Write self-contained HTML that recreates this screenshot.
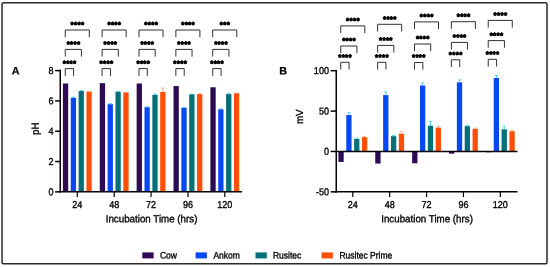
<!DOCTYPE html>
<html><head><meta charset="utf-8"><title>Figure</title>
<style>html,body{margin:0;padding:0;background:#fff;}body{width:550px;height:267px;overflow:hidden;font-family:"Liberation Sans",sans-serif;}svg{display:block;}</style>
</head><body>
<svg width="550" height="267" viewBox="0 0 550 267" font-family="'Liberation Sans', sans-serif">
<rect x="0" y="0" width="550" height="267" fill="#fff"/>
<rect x="2.05" y="2.65" width="544.95" height="261.2" rx="1.3" ry="1.3" fill="none" stroke="#2a2a2a" stroke-width="1.5"/>
<rect x="62.90" y="83.48" width="5.3" height="108.37" fill="#2d0a55"/>
<path d="M73.40 97.88V97.12M71.80 97.12H75.00" stroke="#2cc4ff" stroke-width="0.8" fill="none"/>
<rect x="70.75" y="97.88" width="5.3" height="93.97" fill="#0648f2"/>
<path d="M81.25 91.06V90.61M79.65 90.61H82.85" stroke="#2acfe0" stroke-width="0.8" fill="none"/>
<rect x="78.60" y="91.06" width="5.3" height="100.79" fill="#06707a"/>
<rect x="86.45" y="91.52" width="5.3" height="100.33" fill="#ff4e05"/>
<rect x="99.77" y="83.18" width="5.3" height="108.67" fill="#2d0a55"/>
<path d="M110.27 104.25V103.49M108.67 103.49H111.87" stroke="#2cc4ff" stroke-width="0.8" fill="none"/>
<rect x="107.62" y="104.25" width="5.3" height="87.60" fill="#0648f2"/>
<path d="M118.12 91.82V91.36M116.52 91.36H119.72" stroke="#2acfe0" stroke-width="0.8" fill="none"/>
<rect x="115.47" y="91.82" width="5.3" height="100.03" fill="#06707a"/>
<rect x="123.32" y="92.42" width="5.3" height="99.42" fill="#ff4e05"/>
<rect x="136.64" y="83.48" width="5.3" height="108.37" fill="#2d0a55"/>
<path d="M147.14 107.28V106.67M145.54 106.67H148.74" stroke="#2cc4ff" stroke-width="0.8" fill="none"/>
<rect x="144.49" y="107.28" width="5.3" height="84.57" fill="#0648f2"/>
<path d="M154.99 94.85V94.09M153.39 94.09H156.59" stroke="#2acfe0" stroke-width="0.8" fill="none"/>
<rect x="152.34" y="94.85" width="5.3" height="97.00" fill="#06707a"/>
<path d="M162.84 91.97V88.03M161.24 88.03H164.44" stroke="#ffa47a" stroke-width="0.8" fill="none"/>
<rect x="160.19" y="91.97" width="5.3" height="99.88" fill="#ff4e05"/>
<rect x="173.51" y="86.06" width="5.3" height="105.79" fill="#2d0a55"/>
<path d="M184.01 107.88V107.43M182.41 107.43H185.61" stroke="#2cc4ff" stroke-width="0.8" fill="none"/>
<rect x="181.36" y="107.88" width="5.3" height="83.97" fill="#0648f2"/>
<path d="M191.86 94.40V94.09M190.26 94.09H193.46" stroke="#2acfe0" stroke-width="0.8" fill="none"/>
<rect x="189.21" y="94.40" width="5.3" height="97.45" fill="#06707a"/>
<path d="M199.71 94.09V93.79M198.11 93.79H201.31" stroke="#ffa47a" stroke-width="0.8" fill="none"/>
<rect x="197.06" y="94.09" width="5.3" height="97.76" fill="#ff4e05"/>
<rect x="210.38" y="87.27" width="5.3" height="104.58" fill="#2d0a55"/>
<path d="M220.88 109.40V108.79M219.28 108.79H222.48" stroke="#2cc4ff" stroke-width="0.8" fill="none"/>
<rect x="218.23" y="109.40" width="5.3" height="82.45" fill="#0648f2"/>
<path d="M228.73 94.09V93.33M227.13 93.33H230.33" stroke="#2acfe0" stroke-width="0.8" fill="none"/>
<rect x="226.08" y="94.09" width="5.3" height="97.76" fill="#06707a"/>
<path d="M236.58 93.33V92.88M234.98 92.88H238.18" stroke="#ffa47a" stroke-width="0.8" fill="none"/>
<rect x="233.93" y="93.33" width="5.3" height="98.52" fill="#ff4e05"/>
<path d="M60.25 69.85V192.60" stroke="#000" stroke-width="1.5"/>
<path d="M59.50 191.85H242.05" stroke="#000" stroke-width="1.5"/>
<path d="M55.15 191.85H60.25" stroke="#000" stroke-width="1.5"/>
<text transform="translate(53.45 195.25) rotate(0.03) scale(0.905 1)" font-size="10.0" text-anchor="end" stroke="#000" stroke-width="0.35">0</text>
<path d="M55.15 161.54H60.25" stroke="#000" stroke-width="1.5"/>
<text transform="translate(53.45 164.94) rotate(0.03) scale(0.905 1)" font-size="10.0" text-anchor="end" stroke="#000" stroke-width="0.35">2</text>
<path d="M55.15 131.22H60.25" stroke="#000" stroke-width="1.5"/>
<text transform="translate(53.45 134.62) rotate(0.03) scale(0.905 1)" font-size="10.0" text-anchor="end" stroke="#000" stroke-width="0.35">4</text>
<path d="M55.15 100.91H60.25" stroke="#000" stroke-width="1.5"/>
<text transform="translate(53.45 104.31) rotate(0.03) scale(0.905 1)" font-size="10.0" text-anchor="end" stroke="#000" stroke-width="0.35">6</text>
<path d="M55.15 70.60H60.25" stroke="#000" stroke-width="1.5"/>
<text transform="translate(53.45 74.00) rotate(0.03) scale(0.905 1)" font-size="10.0" text-anchor="end" stroke="#000" stroke-width="0.35">8</text>
<path d="M77.33 191.85V197.05" stroke="#000" stroke-width="1.2"/>
<text transform="translate(77.33 208.10) rotate(0.03) scale(0.905 1)" font-size="10.0" text-anchor="middle" stroke="#000" stroke-width="0.35">24</text>
<path d="M114.19 191.85V197.05" stroke="#000" stroke-width="1.2"/>
<text transform="translate(114.19 208.10) rotate(0.03) scale(0.905 1)" font-size="10.0" text-anchor="middle" stroke="#000" stroke-width="0.35">48</text>
<path d="M151.06 191.85V197.05" stroke="#000" stroke-width="1.2"/>
<text transform="translate(151.06 208.10) rotate(0.03) scale(0.905 1)" font-size="10.0" text-anchor="middle" stroke="#000" stroke-width="0.35">72</text>
<path d="M187.94 191.85V197.05" stroke="#000" stroke-width="1.2"/>
<text transform="translate(187.94 208.10) rotate(0.03) scale(0.905 1)" font-size="10.0" text-anchor="middle" stroke="#000" stroke-width="0.35">96</text>
<path d="M224.81 191.85V197.05" stroke="#000" stroke-width="1.2"/>
<text transform="translate(224.81 208.10) rotate(0.03) scale(0.905 1)" font-size="10.0" text-anchor="middle" stroke="#000" stroke-width="0.35">120</text>
<text transform="translate(151.55 222.35) rotate(0.03) scale(0.95 1)" font-size="10.3" text-anchor="middle" stroke="#000" stroke-width="0.35">Incubation Time (hrs)</text>
<text transform="translate(38.80 128.80) rotate(-90.03) scale(0.95 1)" font-size="10.3" text-anchor="middle" stroke="#000" stroke-width="0.35">pH</text>
<text transform="translate(11.80 74.40) rotate(0.03)" font-size="10.8" font-weight="bold" stroke="#000" stroke-width="0.2">A</text>
<path d="M65.25 75.80V68.60H73.60V75.80" stroke="#1a1a1a" stroke-width="0.9" fill="none"/>
<text transform="translate(69.62 66.20) rotate(0.03)" font-size="8" letter-spacing="0.33" font-weight="bold" text-anchor="middle" stroke="#000" stroke-width="0.85" stroke-linejoin="round">****</text>
<path d="M65.25 56.60V49.40H81.45V56.60" stroke="#1a1a1a" stroke-width="0.9" fill="none"/>
<text transform="translate(73.55 47.00) rotate(0.03)" font-size="8" letter-spacing="0.33" font-weight="bold" text-anchor="middle" stroke="#000" stroke-width="0.85" stroke-linejoin="round">****</text>
<path d="M65.25 37.20V30.00H89.30V37.20" stroke="#1a1a1a" stroke-width="0.9" fill="none"/>
<text transform="translate(77.48 27.60) rotate(0.03)" font-size="8" letter-spacing="0.33" font-weight="bold" text-anchor="middle" stroke="#000" stroke-width="0.85" stroke-linejoin="round">****</text>
<path d="M102.12 75.80V68.60H110.47V75.80" stroke="#1a1a1a" stroke-width="0.9" fill="none"/>
<text transform="translate(106.50 66.20) rotate(0.03)" font-size="8" letter-spacing="0.33" font-weight="bold" text-anchor="middle" stroke="#000" stroke-width="0.85" stroke-linejoin="round">****</text>
<path d="M102.12 56.60V49.40H118.32V56.60" stroke="#1a1a1a" stroke-width="0.9" fill="none"/>
<text transform="translate(110.42 47.00) rotate(0.03)" font-size="8" letter-spacing="0.33" font-weight="bold" text-anchor="middle" stroke="#000" stroke-width="0.85" stroke-linejoin="round">****</text>
<path d="M102.12 37.20V30.00H126.17V37.20" stroke="#1a1a1a" stroke-width="0.9" fill="none"/>
<text transform="translate(114.35 27.60) rotate(0.03)" font-size="8" letter-spacing="0.33" font-weight="bold" text-anchor="middle" stroke="#000" stroke-width="0.85" stroke-linejoin="round">****</text>
<path d="M138.99 75.80V68.60H147.34V75.80" stroke="#1a1a1a" stroke-width="0.9" fill="none"/>
<text transform="translate(143.36 66.20) rotate(0.03)" font-size="8" letter-spacing="0.33" font-weight="bold" text-anchor="middle" stroke="#000" stroke-width="0.85" stroke-linejoin="round">****</text>
<path d="M138.99 56.60V49.40H155.19V56.60" stroke="#1a1a1a" stroke-width="0.9" fill="none"/>
<text transform="translate(147.29 47.00) rotate(0.03)" font-size="8" letter-spacing="0.33" font-weight="bold" text-anchor="middle" stroke="#000" stroke-width="0.85" stroke-linejoin="round">****</text>
<path d="M138.99 37.20V30.00H163.04V37.20" stroke="#1a1a1a" stroke-width="0.9" fill="none"/>
<text transform="translate(151.21 27.60) rotate(0.03)" font-size="8" letter-spacing="0.33" font-weight="bold" text-anchor="middle" stroke="#000" stroke-width="0.85" stroke-linejoin="round">****</text>
<path d="M175.86 75.80V68.60H184.21V75.80" stroke="#1a1a1a" stroke-width="0.9" fill="none"/>
<text transform="translate(180.23 66.20) rotate(0.03)" font-size="8" letter-spacing="0.33" font-weight="bold" text-anchor="middle" stroke="#000" stroke-width="0.85" stroke-linejoin="round">****</text>
<path d="M175.86 56.60V49.40H192.06V56.60" stroke="#1a1a1a" stroke-width="0.9" fill="none"/>
<text transform="translate(184.16 47.00) rotate(0.03)" font-size="8" letter-spacing="0.33" font-weight="bold" text-anchor="middle" stroke="#000" stroke-width="0.85" stroke-linejoin="round">****</text>
<path d="M175.86 37.20V30.00H199.91V37.20" stroke="#1a1a1a" stroke-width="0.9" fill="none"/>
<text transform="translate(188.08 27.60) rotate(0.03)" font-size="8" letter-spacing="0.33" font-weight="bold" text-anchor="middle" stroke="#000" stroke-width="0.85" stroke-linejoin="round">****</text>
<path d="M212.73 75.80V68.60H221.08V75.80" stroke="#1a1a1a" stroke-width="0.9" fill="none"/>
<text transform="translate(217.10 66.20) rotate(0.03)" font-size="8" letter-spacing="0.33" font-weight="bold" text-anchor="middle" stroke="#000" stroke-width="0.85" stroke-linejoin="round">****</text>
<path d="M212.73 56.60V49.40H228.93V56.60" stroke="#1a1a1a" stroke-width="0.9" fill="none"/>
<text transform="translate(221.03 47.00) rotate(0.03)" font-size="8" letter-spacing="0.33" font-weight="bold" text-anchor="middle" stroke="#000" stroke-width="0.85" stroke-linejoin="round">****</text>
<path d="M212.73 37.20V30.00H236.78V37.20" stroke="#1a1a1a" stroke-width="0.9" fill="none"/>
<text transform="translate(224.95 27.60) rotate(0.03)" font-size="8" letter-spacing="0.33" font-weight="bold" text-anchor="middle" stroke="#000" stroke-width="0.85" stroke-linejoin="round">***</text>
<rect x="338.40" y="151.47" width="5.3" height="10.42" fill="#2d0a55"/>
<path d="M348.90 115.04V112.62M347.30 112.62H350.50" stroke="#2cc4ff" stroke-width="0.8" fill="none"/>
<rect x="346.25" y="115.04" width="5.3" height="36.43" fill="#0648f2"/>
<path d="M356.75 139.03V138.22M355.15 138.22H358.35" stroke="#2acfe0" stroke-width="0.8" fill="none"/>
<rect x="354.10" y="139.03" width="5.3" height="12.44" fill="#06707a"/>
<path d="M364.60 137.17V136.36M363.00 136.36H366.20" stroke="#ffa47a" stroke-width="0.8" fill="none"/>
<rect x="361.95" y="137.17" width="5.3" height="14.30" fill="#ff4e05"/>
<rect x="375.27" y="151.47" width="5.3" height="12.11" fill="#2d0a55"/>
<path d="M385.77 95.09V91.94M384.17 91.94H387.37" stroke="#2cc4ff" stroke-width="0.8" fill="none"/>
<rect x="383.12" y="95.09" width="5.3" height="56.38" fill="#0648f2"/>
<path d="M393.62 136.20V135.39M392.02 135.39H395.22" stroke="#2acfe0" stroke-width="0.8" fill="none"/>
<rect x="390.97" y="136.20" width="5.3" height="15.26" fill="#06707a"/>
<path d="M401.47 133.70V131.68M399.87 131.68H403.07" stroke="#ffa47a" stroke-width="0.8" fill="none"/>
<rect x="398.82" y="133.70" width="5.3" height="17.77" fill="#ff4e05"/>
<rect x="412.14" y="151.47" width="5.3" height="11.79" fill="#2d0a55"/>
<path d="M422.64 85.56V82.81M421.04 82.81H424.24" stroke="#2cc4ff" stroke-width="0.8" fill="none"/>
<rect x="419.99" y="85.56" width="5.3" height="65.91" fill="#0648f2"/>
<path d="M430.49 125.70V121.42M428.89 121.42H432.09" stroke="#2acfe0" stroke-width="0.8" fill="none"/>
<rect x="427.84" y="125.70" width="5.3" height="25.76" fill="#06707a"/>
<path d="M438.34 127.64V126.43M436.74 126.43H439.94" stroke="#ffa47a" stroke-width="0.8" fill="none"/>
<rect x="435.69" y="127.64" width="5.3" height="23.83" fill="#ff4e05"/>
<rect x="449.01" y="151.47" width="5.3" height="2.18" fill="#2d0a55"/>
<path d="M459.51 82.33V79.91M457.91 79.91H461.11" stroke="#2cc4ff" stroke-width="0.8" fill="none"/>
<rect x="456.86" y="82.33" width="5.3" height="69.14" fill="#0648f2"/>
<path d="M467.36 126.19V125.38M465.76 125.38H468.96" stroke="#2acfe0" stroke-width="0.8" fill="none"/>
<rect x="464.71" y="126.19" width="5.3" height="25.28" fill="#06707a"/>
<path d="M475.21 128.85V128.04M473.61 128.04H476.81" stroke="#ffa47a" stroke-width="0.8" fill="none"/>
<rect x="472.56" y="128.85" width="5.3" height="22.61" fill="#ff4e05"/>
<rect x="485.88" y="151.47" width="5.3" height="0.81" fill="#2d0a55"/>
<path d="M496.38 77.97V75.55M494.78 75.55H497.98" stroke="#2cc4ff" stroke-width="0.8" fill="none"/>
<rect x="493.73" y="77.97" width="5.3" height="73.50" fill="#0648f2"/>
<path d="M504.23 129.34V126.11M502.63 126.11H505.83" stroke="#2acfe0" stroke-width="0.8" fill="none"/>
<rect x="501.58" y="129.34" width="5.3" height="22.13" fill="#06707a"/>
<path d="M512.08 131.28V130.23M510.48 130.23H513.68" stroke="#ffa47a" stroke-width="0.8" fill="none"/>
<rect x="509.43" y="131.28" width="5.3" height="20.19" fill="#ff4e05"/>
<path d="M336.25 69.95V192.60" stroke="#000" stroke-width="1.5"/>
<path d="M335.50 191.85H517.55" stroke="#000" stroke-width="1.5"/>
<path d="M336.25 151.47H517.55" stroke="#000" stroke-width="1.5"/>
<path d="M330.65 191.85H336.25" stroke="#000" stroke-width="1.5"/>
<text transform="translate(328.95 195.25) rotate(0.03) scale(0.905 1)" font-size="10.0" text-anchor="end" stroke="#000" stroke-width="0.35">-50</text>
<path d="M330.65 151.47H336.25" stroke="#000" stroke-width="1.5"/>
<text transform="translate(328.95 154.87) rotate(0.03) scale(0.905 1)" font-size="10.0" text-anchor="end" stroke="#000" stroke-width="0.35">0</text>
<path d="M330.65 111.08H336.25" stroke="#000" stroke-width="1.5"/>
<text transform="translate(328.95 114.48) rotate(0.03) scale(0.905 1)" font-size="10.0" text-anchor="end" stroke="#000" stroke-width="0.35">50</text>
<path d="M330.65 70.70H336.25" stroke="#000" stroke-width="1.5"/>
<text transform="translate(328.95 74.10) rotate(0.03) scale(0.905 1)" font-size="10.0" text-anchor="end" stroke="#000" stroke-width="0.35">100</text>
<path d="M352.82 191.85V197.05" stroke="#000" stroke-width="1.2"/>
<text transform="translate(352.82 208.10) rotate(0.03) scale(0.905 1)" font-size="10.0" text-anchor="middle" stroke="#000" stroke-width="0.35">24</text>
<path d="M389.69 191.85V197.05" stroke="#000" stroke-width="1.2"/>
<text transform="translate(389.69 208.10) rotate(0.03) scale(0.905 1)" font-size="10.0" text-anchor="middle" stroke="#000" stroke-width="0.35">48</text>
<path d="M426.56 191.85V197.05" stroke="#000" stroke-width="1.2"/>
<text transform="translate(426.56 208.10) rotate(0.03) scale(0.905 1)" font-size="10.0" text-anchor="middle" stroke="#000" stroke-width="0.35">72</text>
<path d="M463.44 191.85V197.05" stroke="#000" stroke-width="1.2"/>
<text transform="translate(463.44 208.10) rotate(0.03) scale(0.905 1)" font-size="10.0" text-anchor="middle" stroke="#000" stroke-width="0.35">96</text>
<path d="M500.31 191.85V197.05" stroke="#000" stroke-width="1.2"/>
<text transform="translate(500.31 208.10) rotate(0.03) scale(0.905 1)" font-size="10.0" text-anchor="middle" stroke="#000" stroke-width="0.35">120</text>
<text transform="translate(427.05 222.35) rotate(0.03) scale(0.95 1)" font-size="10.3" text-anchor="middle" stroke="#000" stroke-width="0.35">Incubation Time (hrs)</text>
<text transform="translate(303.00 116.80) rotate(-90.03) scale(0.95 1)" font-size="10.3" text-anchor="middle" stroke="#000" stroke-width="0.35">mV</text>
<text transform="translate(279.30 74.40) rotate(0.03)" font-size="10.8" font-weight="bold" stroke="#000" stroke-width="0.2">B</text>
<path d="M340.75 69.50V62.30H349.10V69.50" stroke="#1a1a1a" stroke-width="0.9" fill="none"/>
<text transform="translate(345.12 59.90) rotate(0.03)" font-size="8" letter-spacing="0.33" font-weight="bold" text-anchor="middle" stroke="#000" stroke-width="0.85" stroke-linejoin="round">****</text>
<path d="M340.75 53.20V46.00H356.95V53.20" stroke="#1a1a1a" stroke-width="0.9" fill="none"/>
<text transform="translate(349.05 43.60) rotate(0.03)" font-size="8" letter-spacing="0.33" font-weight="bold" text-anchor="middle" stroke="#000" stroke-width="0.85" stroke-linejoin="round">****</text>
<path d="M340.75 33.10V25.90H364.80V33.10" stroke="#1a1a1a" stroke-width="0.9" fill="none"/>
<text transform="translate(352.97 23.50) rotate(0.03)" font-size="8" letter-spacing="0.33" font-weight="bold" text-anchor="middle" stroke="#000" stroke-width="0.85" stroke-linejoin="round">****</text>
<path d="M377.62 69.50V62.30H385.97V69.50" stroke="#1a1a1a" stroke-width="0.9" fill="none"/>
<text transform="translate(381.99 59.90) rotate(0.03)" font-size="8" letter-spacing="0.33" font-weight="bold" text-anchor="middle" stroke="#000" stroke-width="0.85" stroke-linejoin="round">****</text>
<path d="M377.62 52.60V45.40H393.82V52.60" stroke="#1a1a1a" stroke-width="0.9" fill="none"/>
<text transform="translate(385.92 43.00) rotate(0.03)" font-size="8" letter-spacing="0.33" font-weight="bold" text-anchor="middle" stroke="#000" stroke-width="0.85" stroke-linejoin="round">****</text>
<path d="M377.62 31.50V24.30H401.67V31.50" stroke="#1a1a1a" stroke-width="0.9" fill="none"/>
<text transform="translate(389.84 21.90) rotate(0.03)" font-size="8" letter-spacing="0.33" font-weight="bold" text-anchor="middle" stroke="#000" stroke-width="0.85" stroke-linejoin="round">****</text>
<path d="M414.49 69.70V62.50H422.84V69.70" stroke="#1a1a1a" stroke-width="0.9" fill="none"/>
<text transform="translate(418.86 60.10) rotate(0.03)" font-size="8" letter-spacing="0.33" font-weight="bold" text-anchor="middle" stroke="#000" stroke-width="0.85" stroke-linejoin="round">****</text>
<path d="M414.49 51.20V44.00H430.69V51.20" stroke="#1a1a1a" stroke-width="0.9" fill="none"/>
<text transform="translate(422.79 41.60) rotate(0.03)" font-size="8" letter-spacing="0.33" font-weight="bold" text-anchor="middle" stroke="#000" stroke-width="0.85" stroke-linejoin="round">****</text>
<path d="M414.49 29.10V21.90H438.54V29.10" stroke="#1a1a1a" stroke-width="0.9" fill="none"/>
<text transform="translate(426.71 19.50) rotate(0.03)" font-size="8" letter-spacing="0.33" font-weight="bold" text-anchor="middle" stroke="#000" stroke-width="0.85" stroke-linejoin="round">****</text>
<path d="M451.36 67.00V59.80H459.71V67.00" stroke="#1a1a1a" stroke-width="0.9" fill="none"/>
<text transform="translate(455.73 57.40) rotate(0.03)" font-size="8" letter-spacing="0.33" font-weight="bold" text-anchor="middle" stroke="#000" stroke-width="0.85" stroke-linejoin="round">****</text>
<path d="M451.36 49.60V42.40H467.56V49.60" stroke="#1a1a1a" stroke-width="0.9" fill="none"/>
<text transform="translate(459.66 40.00) rotate(0.03)" font-size="8" letter-spacing="0.33" font-weight="bold" text-anchor="middle" stroke="#000" stroke-width="0.85" stroke-linejoin="round">****</text>
<path d="M451.36 28.90V21.70H475.41V28.90" stroke="#1a1a1a" stroke-width="0.9" fill="none"/>
<text transform="translate(463.58 19.30) rotate(0.03)" font-size="8" letter-spacing="0.33" font-weight="bold" text-anchor="middle" stroke="#000" stroke-width="0.85" stroke-linejoin="round">****</text>
<path d="M488.23 66.50V59.30H496.58V66.50" stroke="#1a1a1a" stroke-width="0.9" fill="none"/>
<text transform="translate(492.60 56.90) rotate(0.03)" font-size="8" letter-spacing="0.33" font-weight="bold" text-anchor="middle" stroke="#000" stroke-width="0.85" stroke-linejoin="round">****</text>
<path d="M488.23 47.80V40.60H504.43V47.80" stroke="#1a1a1a" stroke-width="0.9" fill="none"/>
<text transform="translate(496.53 38.20) rotate(0.03)" font-size="8" letter-spacing="0.33" font-weight="bold" text-anchor="middle" stroke="#000" stroke-width="0.85" stroke-linejoin="round">****</text>
<path d="M488.23 27.60V20.40H512.28V27.60" stroke="#1a1a1a" stroke-width="0.9" fill="none"/>
<text transform="translate(500.45 18.00) rotate(0.03)" font-size="8" letter-spacing="0.33" font-weight="bold" text-anchor="middle" stroke="#000" stroke-width="0.85" stroke-linejoin="round">****</text>
<rect x="142.3" y="252.4" width="11.3" height="6" fill="#2d0a55"/>
<text transform="translate(159.90 258.50) rotate(0.03) scale(0.905 1)" font-size="9.4" stroke="#000" stroke-width="0.35">Cow</text>
<rect x="195.6" y="252.4" width="11.3" height="6" fill="#0648f2"/>
<text transform="translate(213.40 258.50) rotate(0.03) scale(0.905 1)" font-size="9.4" stroke="#000" stroke-width="0.35">Ankom</text>
<rect x="255.5" y="252.4" width="11.3" height="6" fill="#06707a"/>
<text transform="translate(272.90 258.50) rotate(0.03) scale(0.905 1)" font-size="9.4" stroke="#000" stroke-width="0.35">Rusitec</text>
<rect x="321.6" y="252.4" width="11.3" height="6" fill="#ff4e05"/>
<text transform="translate(339.40 258.50) rotate(0.03) scale(0.905 1)" font-size="9.4" stroke="#000" stroke-width="0.35">Rusitec Prime</text>
</svg>
</body></html>
